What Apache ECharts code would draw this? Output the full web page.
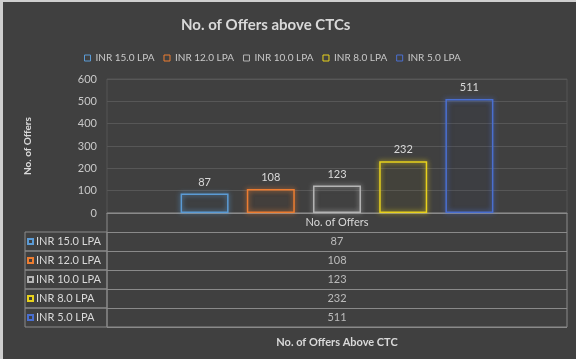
<!DOCTYPE html>
<html>
<head>
<meta charset="utf-8">
<script src="https://cdn.jsdelivr.net/npm/echarts@6/dist/echarts.min.js"></script>
<style>
html,body{margin:0;padding:0;background:#cfcfcf;width:576px;height:359px;overflow:hidden;}
#c{position:absolute;left:3px;top:2px;width:573px;height:357px;background:#404040;}
</style>
</head>
<body>
<div id="c"></div>
<script>
const titleText = 'No. of Offers above CTCs';
const categories = ['No. of Offers'];
const seriesNames = ['INR 15.0 LPA', 'INR 12.0 LPA', 'INR 10.0 LPA', 'INR 8.0 LPA', 'INR 5.0 LPA'];
const values = [87, 108, 123, 232, 511];
const colors = ['#5b9bd5', '#ed7d31', '#b4b4b4', '#e8d21c', '#4a6fd0'];
const yTicks = [0, 100, 200, 300, 400, 500, 600];
const yAxisTitle = 'No. of Offers';
const xAxisTitle = 'No. of Offers Above CTC';

const chart = echarts.init(document.getElementById('c'), null, {renderer: 'canvas'});
const txt = '#d9d9d9';
const lineC = '#8a8a8a';
const font = 'Lato, "Open Sans", sans-serif';

const rowCats = ['__hdr'].concat(seriesNames);
const rich = {t: {color: txt, fontSize: 11, fontFamily: font, align: 'left', padding: [0,0,0,3]}};
seriesNames.forEach((n, i) => {
  rich['i' + i] = {width: 5, height: 5, borderColor: colors[i], borderWidth: 1, backgroundColor: 'transparent'};
});

const barSeries = seriesNames.map((n, i) => ({
  name: n,
  type: 'bar',
  xAxisIndex: 0, yAxisIndex: 0,
  data: [values[i]],
  barGap: '38%',
  barCategoryGap: '32%',
  itemStyle: {color: 'rgba(0,0,0,0.04)', borderColor: colors[i], borderWidth: 1.5, shadowBlur: 5, shadowColor: colors[i]},
  label: {show: true, position: 'top', distance: 6, color: txt, fontSize: 11, fontFamily: font}
}));

const tableSeries = {
  type: 'scatter',
  xAxisIndex: 1, yAxisIndex: 1,
  symbolSize: 1,
  itemStyle: {color: 'rgba(0,0,0,0)'},
  silent: true,
  data: seriesNames.map((n, i) => [categories[0], n, values[i]]),
  label: {show: true, position: 'inside', color: txt, fontSize: 11, fontFamily: font, formatter: p => p.value[2]}
};

chart.setOption({
  animation: false,
  backgroundColor: '#404040',
  title: {text: titleText, left: 173, top: 11, textStyle: {color: txt, fontSize: 15, fontWeight: 'bold', fontFamily: font}},
  legend: {
    data: seriesNames.map((n, i) => ({name: n, icon: 'rect', itemStyle: {color: 'transparent', borderColor: colors[i], borderWidth: 1}})),
    left: 76, top: 46, itemWidth: 6, itemHeight: 6, itemGap: 9,
    textStyle: {color: '#c8c8c8', fontSize: 10, fontFamily: font}
  },
  grid: [
    {left: 104, right: 9, top: 77, bottom: 146, show: true, borderColor: '#555', borderWidth: 1},
    {left: 104, right: 9, top: 211, bottom: 32, show: true, borderColor: lineC, borderWidth: 1}
  ],
  xAxis: [
    {type: 'category', gridIndex: 0, data: categories, axisTick: {show: false},
     axisLine: {lineStyle: {color: lineC}},
     axisLabel: {color: txt, fontSize: 11, fontFamily: font, margin: 4}},
    {type: 'category', gridIndex: 1, data: categories, axisTick: {show: false}, axisLine: {show: false},
     axisLabel: {show: false},
     name: xAxisTitle, nameLocation: 'middle', nameGap: 10,
     nameTextStyle: {color: txt, fontSize: 11, fontWeight: 'bold', fontFamily: font}}
  ],
  yAxis: [
    {type: 'value', gridIndex: 0, min: yTicks[0], max: yTicks[yTicks.length - 1], interval: 100,
     axisLine: {show: false}, axisTick: {show: false},
     splitLine: {lineStyle: {color: '#575757'}},
     axisLabel: {color: '#c8c8c8', fontSize: 11, fontFamily: font, margin: 10},
     name: yAxisTitle, nameLocation: 'middle', nameGap: 74, nameRotate: 90,
     nameTextStyle: {color: txt, fontSize: 10, fontWeight: 'bold', fontFamily: font}},
    {type: 'category', gridIndex: 1, data: rowCats, inverse: true,
     axisLine: {show: false}, axisTick: {show: false},
     splitLine: {show: true, interval: 0, lineStyle: {color: lineC}},
     axisLabel: {interval: 0, margin: 82, fontSize: 11, fontFamily: font, color: txt,
       borderColor: lineC, borderWidth: 1, padding: [0, 0, 0, 3], width: 79, height: 19, lineHeight: 19, align: 'left',
       formatter: v => {
         const i = seriesNames.indexOf(v);
         if (i < 0) return '';
         return '{i' + i + '|}{t|' + v + '}';
       },
       rich: rich}}
  ],
  series: barSeries.concat([tableSeries])
});
</script>
</body>
</html>
